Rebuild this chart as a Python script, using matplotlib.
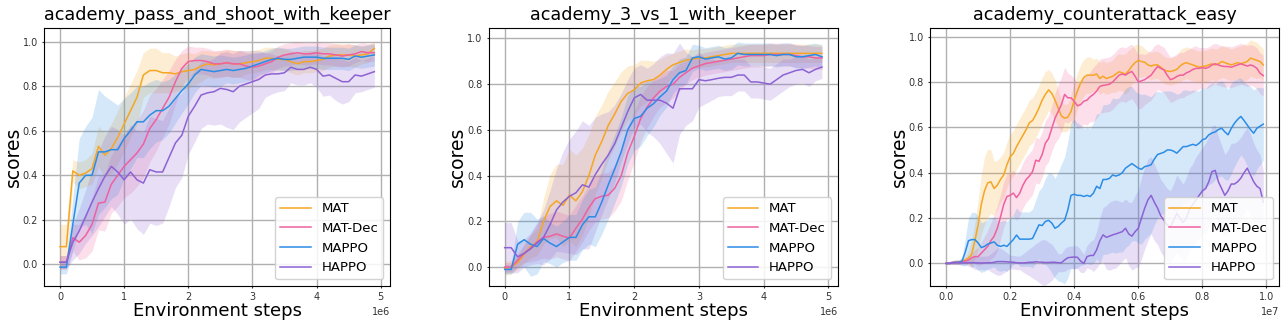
import numpy as np
import matplotlib
matplotlib.use("Agg")
import matplotlib.pyplot as plt

# ---- academy_pass_and_shoot_with_keeper (step 1e5, 50 points) ----
pass_mat = [0.08, 0.08, 0.42, 0.40, 0.41, 0.43, 0.53, 0.49, 0.52, 0.57,
            0.63, 0.69, 0.75, 0.85, 0.87, 0.87, 0.86, 0.86, 0.855, 0.865,
            0.87, 0.875, 0.89, 0.90, 0.895, 0.90, 0.905, 0.90, 0.90, 0.905,
            0.91, 0.915, 0.925, 0.925, 0.92, 0.92, 0.91, 0.90, 0.91, 0.91,
            0.915, 0.92, 0.935, 0.94, 0.94, 0.94, 0.935, 0.94, 0.945, 0.97]
pass_matdec = [0.01, 0.01, 0.12, 0.10, 0.13, 0.18, 0.275, 0.28, 0.36, 0.40,
               0.44, 0.47, 0.50, 0.54, 0.61, 0.65, 0.70, 0.75, 0.82, 0.88,
               0.91, 0.915, 0.915, 0.91, 0.90, 0.90, 0.905, 0.90, 0.90, 0.89,
               0.885, 0.89, 0.90, 0.91, 0.93, 0.94, 0.945, 0.95, 0.945, 0.945,
               0.95, 0.945, 0.945, 0.94, 0.935, 0.94, 0.945, 0.955, 0.95, 0.95]
pass_mappo = [-0.012, -0.012, 0.18, 0.365, 0.40, 0.40, 0.505, 0.505, 0.515, 0.515,
              0.565, 0.60, 0.64, 0.64, 0.67, 0.69, 0.69, 0.71, 0.745, 0.78,
              0.81, 0.85, 0.875, 0.87, 0.865, 0.87, 0.875, 0.87, 0.875, 0.88,
              0.89, 0.90, 0.91, 0.92, 0.925, 0.92, 0.92, 0.925, 0.93, 0.93,
              0.93, 0.925, 0.925, 0.925, 0.925, 0.92, 0.935, 0.93, 0.935, 0.94]
pass_happo = [0.01, 0.01, 0.10, 0.15, 0.215, 0.28, 0.34, 0.395, 0.44, 0.415,
              0.38, 0.415, 0.38, 0.365, 0.425, 0.415, 0.415, 0.48, 0.545, 0.58,
              0.665, 0.71, 0.76, 0.77, 0.775, 0.79, 0.785, 0.775, 0.80, 0.81,
              0.82, 0.83, 0.85, 0.855, 0.855, 0.86, 0.885, 0.875, 0.875, 0.885,
              0.875, 0.845, 0.85, 0.835, 0.82, 0.82, 0.85, 0.845, 0.855, 0.865]
pass_mat_sd = [0.10, 0.10, 0.05, 0.06, 0.06, 0.07, 0.09, 0.10, 0.11, 0.12,
               0.12, 0.12, 0.12, 0.10, 0.10, 0.10, 0.09, 0.09, 0.08, 0.08,
               0.08, 0.07, 0.07, 0.06, 0.06, 0.06, 0.06, 0.06, 0.06, 0.05,
               0.05, 0.05, 0.05, 0.05, 0.05, 0.05, 0.05, 0.05, 0.05, 0.05,
               0.05, 0.05, 0.05, 0.05, 0.05, 0.05, 0.05, 0.04, 0.04, 0.03]
pass_matdec_sd = [0.03, 0.03, 0.06, 0.08, 0.10, 0.12, 0.12, 0.13, 0.13, 0.14,
                  0.14, 0.15, 0.15, 0.15, 0.15, 0.14, 0.13, 0.12, 0.10, 0.08,
                  0.07, 0.06, 0.06, 0.06, 0.06, 0.06, 0.06, 0.06, 0.06, 0.06,
                  0.06, 0.06, 0.05, 0.05, 0.05, 0.05, 0.05, 0.05, 0.05, 0.05,
                  0.05, 0.05, 0.05, 0.05, 0.05, 0.05, 0.04, 0.04, 0.04, 0.04]
pass_mappo_sd = [0.03, 0.03, 0.12, 0.20, 0.22, 0.26, 0.28, 0.25, 0.22, 0.20,
                 0.18, 0.17, 0.16, 0.16, 0.15, 0.14, 0.13, 0.12, 0.11, 0.10,
                 0.09, 0.08, 0.07, 0.07, 0.07, 0.07, 0.06, 0.06, 0.06, 0.06,
                 0.06, 0.05, 0.05, 0.05, 0.05, 0.05, 0.05, 0.05, 0.05, 0.05,
                 0.05, 0.05, 0.05, 0.05, 0.05, 0.05, 0.05, 0.05, 0.05, 0.05]
pass_happo_sd = [0.03, 0.03, 0.08, 0.10, 0.12, 0.15, 0.17, 0.18, 0.18, 0.19,
                 0.20, 0.21, 0.22, 0.23, 0.24, 0.24, 0.23, 0.22, 0.20, 0.19,
                 0.17, 0.16, 0.15, 0.14, 0.15, 0.16, 0.17, 0.17, 0.16, 0.15,
                 0.14, 0.13, 0.10, 0.09, 0.08, 0.08, 0.07, 0.07, 0.07, 0.07,
                 0.08, 0.09, 0.09, 0.10, 0.10, 0.09, 0.08, 0.07, 0.07, 0.07]

# ---- academy_3_vs_1_with_keeper (step 1e5, 50 points) ----
vs_mat = [-0.005, 0.0, 0.02, 0.055, 0.09, 0.11, 0.20, 0.265, 0.29, 0.27,
          0.315, 0.29, 0.33, 0.40, 0.49, 0.55, 0.62, 0.67, 0.725, 0.76,
          0.775, 0.805, 0.815, 0.82, 0.84, 0.865, 0.885, 0.895, 0.905, 0.91,
          0.915, 0.915, 0.92, 0.925, 0.93, 0.935, 0.935, 0.935, 0.935, 0.935,
          0.935, 0.935, 0.935, 0.935, 0.935, 0.935, 0.935, 0.935, 0.935, 0.935]
vs_matdec = [0.0, 0.0, 0.03, 0.06, 0.083, 0.11, 0.13, 0.135, 0.145, 0.135,
             0.127, 0.17, 0.21, 0.26, 0.30, 0.31, 0.315, 0.345, 0.40, 0.50,
             0.57, 0.65, 0.70, 0.74, 0.77, 0.79, 0.80, 0.83, 0.85, 0.87,
             0.88, 0.89, 0.895, 0.90, 0.905, 0.91, 0.915, 0.92, 0.925, 0.925,
             0.925, 0.93, 0.93, 0.93, 0.93, 0.925, 0.92, 0.92, 0.915, 0.915]
vs_mappo = [-0.01, -0.01, 0.10, 0.12, 0.10, 0.09, 0.125, 0.105, 0.09, 0.11,
            0.13, 0.13, 0.185, 0.22, 0.22, 0.285, 0.36, 0.43, 0.505, 0.60,
            0.65, 0.66, 0.695, 0.715, 0.745, 0.77, 0.82, 0.85, 0.86, 0.915,
            0.92, 0.91, 0.915, 0.92, 0.91, 0.915, 0.935, 0.93, 0.93, 0.93,
            0.93, 0.93, 0.925, 0.93, 0.93, 0.92, 0.92, 0.925, 0.93, 0.92]
vs_happo = [0.085, 0.085, 0.045, 0.06, 0.08, 0.105, 0.13, 0.185, 0.25, 0.285,
            0.31, 0.325, 0.36, 0.35, 0.405, 0.45, 0.49, 0.54, 0.61, 0.68,
            0.74, 0.755, 0.73, 0.73, 0.73, 0.717, 0.695, 0.78, 0.78, 0.78,
            0.82, 0.815, 0.82, 0.826, 0.83, 0.83, 0.84, 0.84, 0.81, 0.81,
            0.805, 0.80, 0.82, 0.84, 0.85, 0.86, 0.865, 0.85, 0.865, 0.875]
vs_mat_sd = [0.03, 0.03, 0.03, 0.04, 0.05, 0.06, 0.10, 0.14, 0.16, 0.18,
             0.20, 0.20, 0.19, 0.18, 0.17, 0.16, 0.15, 0.14, 0.13, 0.12,
             0.11, 0.10, 0.09, 0.08, 0.07, 0.06, 0.05, 0.05, 0.05, 0.04,
             0.04, 0.04, 0.04, 0.04, 0.04, 0.04, 0.04, 0.04, 0.04, 0.04,
             0.04, 0.04, 0.04, 0.04, 0.04, 0.04, 0.04, 0.04, 0.04, 0.04]
vs_matdec_sd = [0.02, 0.02, 0.03, 0.04, 0.06, 0.08, 0.09, 0.10, 0.10, 0.10,
                0.10, 0.10, 0.10, 0.10, 0.10, 0.10, 0.10, 0.10, 0.11, 0.12,
                0.11, 0.10, 0.09, 0.08, 0.07, 0.07, 0.06, 0.06, 0.05, 0.05,
                0.05, 0.05, 0.05, 0.05, 0.05, 0.05, 0.05, 0.05, 0.05, 0.05,
                0.05, 0.05, 0.05, 0.05, 0.05, 0.05, 0.05, 0.05, 0.05, 0.05]
vs_mappo_sd = [0.02, 0.02, 0.10, 0.12, 0.14, 0.12, 0.10, 0.09, 0.09, 0.09,
               0.10, 0.10, 0.11, 0.12, 0.13, 0.14, 0.15, 0.15, 0.15, 0.15,
               0.14, 0.13, 0.12, 0.10, 0.08, 0.07, 0.06, 0.06, 0.06, 0.06,
               0.05, 0.05, 0.05, 0.05, 0.05, 0.05, 0.05, 0.05, 0.05, 0.05,
               0.05, 0.05, 0.05, 0.05, 0.05, 0.05, 0.05, 0.05, 0.05, 0.05]
vs_happo_sd = [0.11, 0.11, 0.07, 0.06, 0.07, 0.09, 0.12, 0.15, 0.18, 0.22,
               0.25, 0.27, 0.28, 0.27, 0.25, 0.22, 0.19, 0.17, 0.15, 0.14,
               0.13, 0.13, 0.14, 0.16, 0.19, 0.22, 0.24, 0.20, 0.16, 0.14,
               0.12, 0.10, 0.09, 0.08, 0.08, 0.08, 0.07, 0.07, 0.07, 0.07,
               0.07, 0.07, 0.07, 0.07, 0.06, 0.06, 0.06, 0.06, 0.05, 0.05]

# ---- academy_counterattack_easy (step 1e5, 100 points) ----
ca_mat = [0.0, 0.0, 0.003, 0.005, 0.005, 0.01, 0.015, 0.025, 0.04, 0.10,
          0.17, 0.26, 0.32, 0.355, 0.36, 0.33, 0.345, 0.37, 0.39, 0.435,
          0.47, 0.485, 0.515, 0.54, 0.565, 0.59, 0.62, 0.63, 0.655, 0.685,
          0.72, 0.745, 0.765, 0.75, 0.72, 0.685, 0.65, 0.64, 0.645, 0.67,
          0.72, 0.76, 0.795, 0.82, 0.83, 0.83, 0.83, 0.835, 0.815, 0.825,
          0.815, 0.82, 0.825, 0.835, 0.845, 0.84, 0.835, 0.85, 0.87, 0.885,
          0.895, 0.89, 0.887, 0.875, 0.87, 0.875, 0.875, 0.865, 0.853, 0.848,
          0.846, 0.85, 0.855, 0.87, 0.88, 0.885, 0.88, 0.875, 0.87, 0.865,
          0.868, 0.87, 0.875, 0.88, 0.875, 0.88, 0.89, 0.885, 0.88, 0.875,
          0.88, 0.885, 0.88, 0.885, 0.89, 0.905, 0.90, 0.895, 0.89, 0.875]
ca_matdec = [0.0, 0.002, 0.005, 0.005, 0.005, 0.008, 0.01, 0.015, 0.025, 0.03,
             0.03, 0.045, 0.06, 0.075, 0.10, 0.12, 0.155, 0.205, 0.26, 0.295,
             0.30, 0.31, 0.29, 0.31, 0.345, 0.37, 0.385, 0.405, 0.455, 0.45,
             0.48, 0.53, 0.55, 0.595, 0.64, 0.67, 0.70, 0.745, 0.73, 0.73,
             0.715, 0.695, 0.70, 0.715, 0.72, 0.735, 0.745, 0.76, 0.78, 0.785,
             0.787, 0.79, 0.80, 0.815, 0.83, 0.835, 0.83, 0.84, 0.846, 0.825,
             0.80, 0.805, 0.81, 0.82, 0.83, 0.85, 0.868, 0.86, 0.853, 0.83,
             0.81, 0.815, 0.824, 0.83, 0.83, 0.84, 0.846, 0.855, 0.86, 0.86,
             0.863, 0.86, 0.865, 0.875, 0.88, 0.875, 0.87, 0.868, 0.868, 0.865,
             0.87, 0.875, 0.88, 0.875, 0.87, 0.875, 0.87, 0.86, 0.838, 0.828]
ca_mappo = [0.0, 0.0, 0.003, 0.005, 0.005, 0.01, 0.05, 0.10, 0.105, 0.105,
            0.09, 0.07, 0.075, 0.085, 0.09, 0.095, 0.08, 0.075, 0.08, 0.075,
            0.09, 0.105, 0.125, 0.107, 0.107, 0.107, 0.107, 0.11, 0.14, 0.17,
            0.167, 0.185, 0.19, 0.178, 0.155, 0.163, 0.178, 0.19, 0.236, 0.30,
            0.305, 0.30, 0.30, 0.295, 0.30, 0.295, 0.31, 0.34, 0.33, 0.37,
            0.37, 0.375, 0.39, 0.385, 0.39, 0.40, 0.42, 0.43, 0.44, 0.43,
            0.42, 0.415, 0.427, 0.43, 0.435, 0.46, 0.48, 0.485, 0.49, 0.50,
            0.50, 0.495, 0.486, 0.50, 0.515, 0.515, 0.52, 0.525, 0.52, 0.53,
            0.545, 0.55, 0.567, 0.575, 0.58, 0.59, 0.596, 0.58, 0.567, 0.595,
            0.618, 0.635, 0.648, 0.63, 0.61, 0.59, 0.574, 0.596, 0.605, 0.614]
ca_happo = [0.0, 0.0, 0.002, 0.003, 0.003, 0.002, 0.002, 0.003, 0.003, 0.003,
            0.002, 0.002, 0.002, 0.003, 0.003, 0.005, 0.008, 0.008, 0.008, 0.007,
            0.006, 0.005, 0.003, 0.002, 0.002, 0.003, 0.005, 0.005, 0.007, 0.006,
            0.005, 0.004, 0.004, 0.005, 0.005, 0.003, 0.003, 0.015, 0.025, 0.027,
            0.028, 0.027, 0.01, 0.0, 0.03, 0.035, 0.035, 0.06, 0.10, 0.126,
            0.115, 0.12, 0.126, 0.13, 0.135, 0.14, 0.155, 0.13, 0.12, 0.14,
            0.155, 0.20, 0.244, 0.28, 0.30, 0.27, 0.244, 0.21, 0.19, 0.17,
            0.16, 0.19, 0.22, 0.20, 0.18, 0.20, 0.24, 0.26, 0.28, 0.30,
            0.32, 0.33, 0.36, 0.405, 0.41, 0.36, 0.33, 0.30, 0.32, 0.35,
            0.35, 0.36, 0.376, 0.40, 0.42, 0.39, 0.36, 0.34, 0.33, 0.27]
ca_mat_sd = [0.005, 0.005, 0.008, 0.01, 0.01, 0.01, 0.015, 0.03, 0.06, 0.08,
             0.11, 0.13, 0.15, 0.15, 0.14, 0.12, 0.11, 0.10, 0.10, 0.10,
             0.10, 0.10, 0.10, 0.10, 0.10, 0.10, 0.10, 0.10, 0.10, 0.10,
             0.10, 0.10, 0.09, 0.09, 0.09, 0.08, 0.07, 0.06, 0.06, 0.07,
             0.08, 0.08, 0.08, 0.08, 0.08, 0.08, 0.07, 0.07, 0.07, 0.07,
             0.07, 0.07, 0.07, 0.08, 0.08, 0.08, 0.09, 0.09, 0.08, 0.08,
             0.07, 0.07, 0.06, 0.06, 0.06, 0.06, 0.06, 0.06, 0.06, 0.06,
             0.06, 0.06, 0.06, 0.07, 0.07, 0.07, 0.07, 0.07, 0.07, 0.07,
             0.07, 0.07, 0.07, 0.07, 0.07, 0.07, 0.07, 0.07, 0.07, 0.07,
             0.07, 0.07, 0.08, 0.08, 0.08, 0.08, 0.08, 0.08, 0.07, 0.07]
ca_matdec_sd = [0.005, 0.005, 0.008, 0.01, 0.01, 0.01, 0.01, 0.015, 0.02, 0.03,
                0.04, 0.05, 0.06, 0.07, 0.08, 0.09, 0.10, 0.10, 0.10, 0.10,
                0.10, 0.10, 0.10, 0.10, 0.10, 0.10, 0.10, 0.10, 0.10, 0.10,
                0.10, 0.10, 0.10, 0.10, 0.11, 0.12, 0.12, 0.12, 0.11, 0.10,
                0.10, 0.10, 0.10, 0.10, 0.11, 0.11, 0.12, 0.12, 0.12, 0.12,
                0.12, 0.12, 0.12, 0.12, 0.12, 0.12, 0.12, 0.12, 0.12, 0.12,
                0.12, 0.12, 0.11, 0.11, 0.11, 0.11, 0.10, 0.10, 0.10, 0.10,
                0.10, 0.10, 0.10, 0.10, 0.10, 0.10, 0.10, 0.10, 0.10, 0.09,
                0.09, 0.09, 0.09, 0.09, 0.09, 0.09, 0.09, 0.09, 0.09, 0.09,
                0.09, 0.09, 0.09, 0.09, 0.09, 0.09, 0.09, 0.09, 0.09, 0.09]
ca_mappo_sd = [0.005, 0.005, 0.008, 0.01, 0.01, 0.02, 0.06, 0.10, 0.12, 0.12,
               0.12, 0.11, 0.11, 0.11, 0.11, 0.11, 0.11, 0.11, 0.11, 0.11,
               0.11, 0.11, 0.12, 0.12, 0.12, 0.12, 0.12, 0.13, 0.14, 0.15,
               0.17, 0.19, 0.21, 0.22, 0.22, 0.24, 0.26, 0.28, 0.30, 0.32,
               0.33, 0.32, 0.31, 0.30, 0.30, 0.30, 0.31, 0.32, 0.33, 0.33,
               0.33, 0.33, 0.34, 0.34, 0.34, 0.35, 0.35, 0.35, 0.34, 0.33,
               0.33, 0.33, 0.32, 0.31, 0.30, 0.29, 0.28, 0.27, 0.27, 0.26,
               0.26, 0.26, 0.26, 0.25, 0.25, 0.25, 0.24, 0.24, 0.24, 0.23,
               0.23, 0.22, 0.22, 0.22, 0.21, 0.21, 0.21, 0.21, 0.20, 0.20,
               0.19, 0.18, 0.17, 0.17, 0.18, 0.19, 0.19, 0.18, 0.17, 0.16]
ca_happo_sd = [0.005, 0.005, 0.005, 0.006, 0.006, 0.008, 0.01, 0.015, 0.02, 0.03,
               0.03, 0.03, 0.03, 0.03, 0.04, 0.05, 0.06, 0.06, 0.05, 0.04,
               0.03, 0.03, 0.03, 0.03, 0.04, 0.05, 0.06, 0.07, 0.08, 0.09,
               0.10, 0.10, 0.09, 0.08, 0.06, 0.04, 0.04, 0.05, 0.05, 0.05,
               0.05, 0.05, 0.05, 0.04, 0.05, 0.06, 0.07, 0.08, 0.10, 0.12,
               0.14, 0.15, 0.15, 0.15, 0.14, 0.13, 0.13, 0.14, 0.15, 0.16,
               0.17, 0.18, 0.18, 0.18, 0.17, 0.17, 0.16, 0.16, 0.16, 0.16,
               0.16, 0.16, 0.17, 0.17, 0.17, 0.18, 0.18, 0.18, 0.19, 0.19,
               0.19, 0.20, 0.20, 0.20, 0.20, 0.20, 0.19, 0.18, 0.18, 0.18,
               0.18, 0.18, 0.18, 0.18, 0.18, 0.18, 0.17, 0.16, 0.15, 0.14]

labels = ["MAT", "MAT-Dec", "MAPPO", "HAPPO"]
colors = ["#F5A623", "#F0609E", "#2B8CE6", "#8C62D4"]
titles = ["academy_pass_and_shoot_with_keeper", "academy_3_vs_1_with_keeper",
          "academy_counterattack_easy"]

panels = [
    (np.arange(50) * 1e5, [pass_mat, pass_matdec, pass_mappo, pass_happo],
     [pass_mat_sd, pass_matdec_sd, pass_mappo_sd, pass_happo_sd]),
    (np.arange(50) * 1e5, [vs_mat, vs_matdec, vs_mappo, vs_happo],
     [vs_mat_sd, vs_matdec_sd, vs_mappo_sd, vs_happo_sd]),
    (np.arange(100) * 1e5, [ca_mat, ca_matdec, ca_mappo, ca_happo],
     [ca_mat_sd, ca_matdec_sd, ca_mappo_sd, ca_happo_sd]),
]

fig = plt.figure(figsize=(12.83, 3.24), dpi=100)
boxes = [[0.0345, 0.117, 0.2695, 0.796],
         [0.381, 0.117, 0.272, 0.796],
         [0.725, 0.117, 0.272, 0.796]]
ylims = [(-0.097, 1.06), (-0.083, 1.045), (-0.1, 1.037)]

for k, (x, means, sds) in enumerate(panels):
    ax = fig.add_axes(boxes[k])
    for m, s, lab, c in zip(means, sds, labels, colors):
        m = np.array(m)
        s = np.array(s)
        ax.plot(x, m, color=c, lw=1.1, label=lab)
        ax.fill_between(x, m - s, m + s, color=c, alpha=0.2, lw=0)
    ax.set_ylim(*ylims[k])
    ax.set_yticks([0.0, 0.2, 0.4, 0.6, 0.8, 1.0])
    ax.grid(True, color="#b0b0b0", lw=1.0)
    ax.set_axisbelow(True)
    ax.tick_params(labelsize=7, colors="#333333", length=1.5, pad=3)
    ax.xaxis.get_offset_text().set_fontsize(7)
    ax.set_title(titles[k], fontsize=12.7)
    ax.set_xlabel("Environment steps", fontsize=13, labelpad=0)
    ax.set_ylabel("scores", fontsize=13.5, labelpad=0)
    ax.legend(loc="lower right", fontsize=9.5, handlelength=2.3,
              framealpha=0.85)

fig.savefig("out.png", dpi=100)
